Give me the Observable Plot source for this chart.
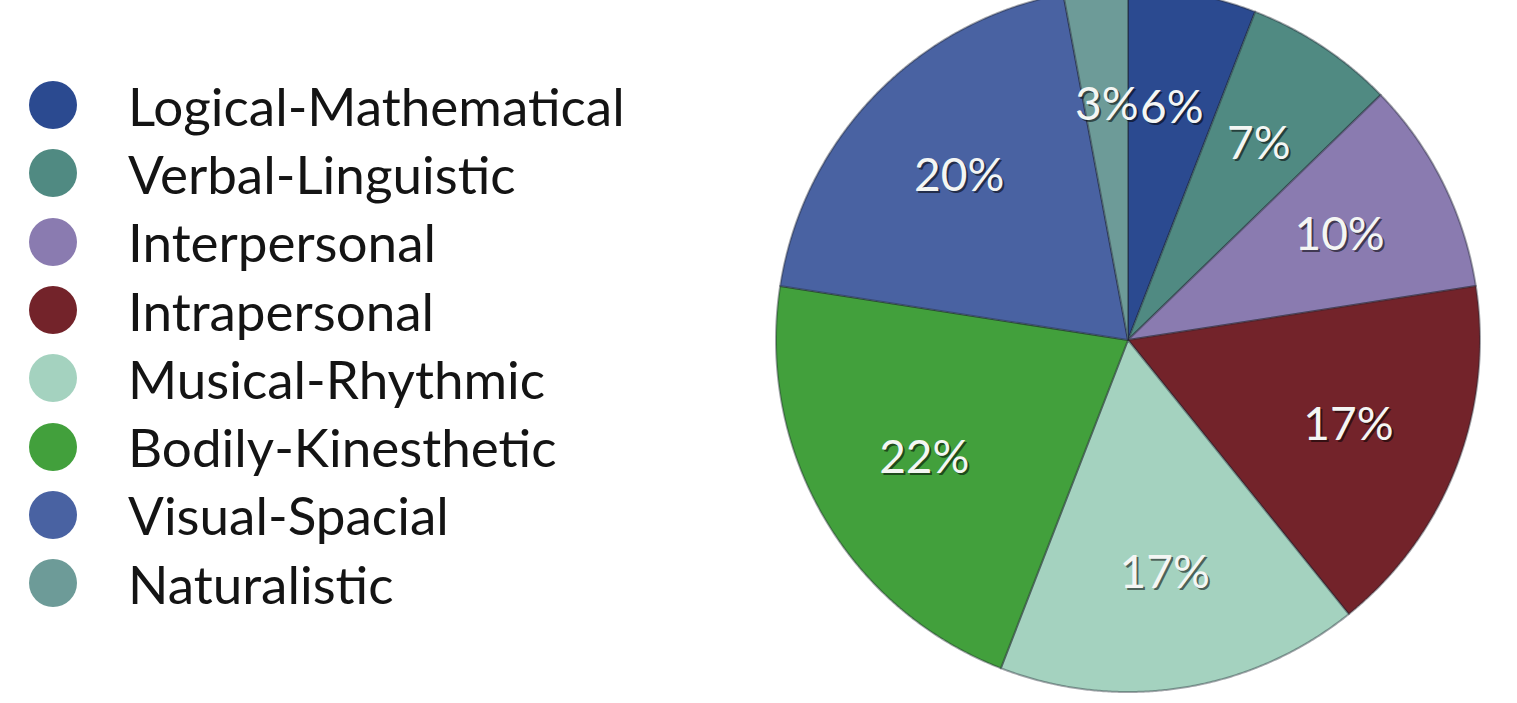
<!DOCTYPE html>
<html><head><meta charset="utf-8">
<script src="https://cdn.jsdelivr.net/npm/d3@7"></script>
<script src="https://cdn.jsdelivr.net/npm/@observablehq/plot@0.6"></script>
<style>
html,body{margin:0;padding:0;background:#fff;overflow:hidden;}
#wrap{position:relative;width:1517px;height:703px;overflow:hidden;background:#fff;}
#chart{position:absolute;left:0;top:0;}
#legend{position:absolute;left:29px;top:71px;font-family:"Gill Sans",Lato,sans-serif;}
.item{display:flex;align-items:center;height:68.3px;}
.sw{width:48px;height:48px;border-radius:50%;margin-right:51px;flex:none;}
.lab{font-size:53px;color:#141414;white-space:nowrap;line-height:1;}
</style></head>
<body><div id="wrap"><div id="chart"></div><div id="legend"></div></div>
<script>
// ---- data ----
const categories = ["Logical-Mathematical","Verbal-Linguistic","Interpersonal","Intrapersonal","Musical-Rhythmic","Bodily-Kinesthetic","Visual-Spacial","Naturalistic"];
const values = [6, 7, 10, 17, 17, 22, 20, 3];
const colors = ["#2b4a90","#508a82","#8a7bb0","#73232a","#a4d2bf","#42a03c","#4962a2","#6d9b98"];

// ---- layout ----
const W = 1517, H = 703, cx = 1128, cy = 340, R = 352;

const rows = categories.map((name, i) => ({name, value: values[i]}));
const arcs = d3.pie().sort(null).value(d => d.value)(rows);

// slice outline points on the unit circle, per category
const pts = [];
for (const a of arcs) {
  const n = Math.max(2, Math.ceil((a.endAngle - a.startAngle) / 0.005));
  for (let i = 0; i <= n; i++) {
    const t = a.startAngle + (a.endAngle - a.startAngle) * i / n;
    pts.push({name: a.data.name, x: Math.sin(t), y: Math.cos(t)});
  }
}
const labelPts = arcs.map(a => {
  const m = (a.startAngle + a.endAngle) / 2;
  return {name: a.data.name, text: a.data.value + "%", x: 0.67 * Math.sin(m), y: 0.67 * Math.cos(m)};
});

const font = '"Gill Sans", Lato, sans-serif';
const chart = Plot.plot({
  width: W, height: H, margin: 0,
  style: {background: "transparent", fontFamily: font},
  x: {domain: [-1, 1], range: [cx - R, cx + R], axis: null},
  y: {domain: [-1, 1], range: [cy + R, cy - R], axis: null},
  color: {domain: categories, range: colors},
  marks: [
    Plot.area(pts, {x1: "x", y1: "y", x2: () => 0, y2: () => 0, z: "name", fill: "name",
      stroke: "#1d2430", strokeOpacity: 0.4, strokeWidth: 2, strokeLinejoin: "round"}),
    Plot.text(labelPts, {x: "x", y: "y", text: "text", dx: 2, dy: 2, fill: "#000", fillOpacity: 0.55, fontSize: 46}),
    Plot.text(labelPts, {x: "x", y: "y", text: "text", fill: "#f4f6f4", fontSize: 46})
  ]
});
document.getElementById("chart").appendChild(chart);

// ---- legend ----
const colorScale = chart.scale("color");
const legend = d3.select("#legend");
categories.forEach(c => {
  const it = legend.append("div").attr("class", "item");
  it.append("div").attr("class", "sw").style("background", colorScale.apply(c));
  it.append("div").attr("class", "lab").text(c);
});
</script>
</body></html>
